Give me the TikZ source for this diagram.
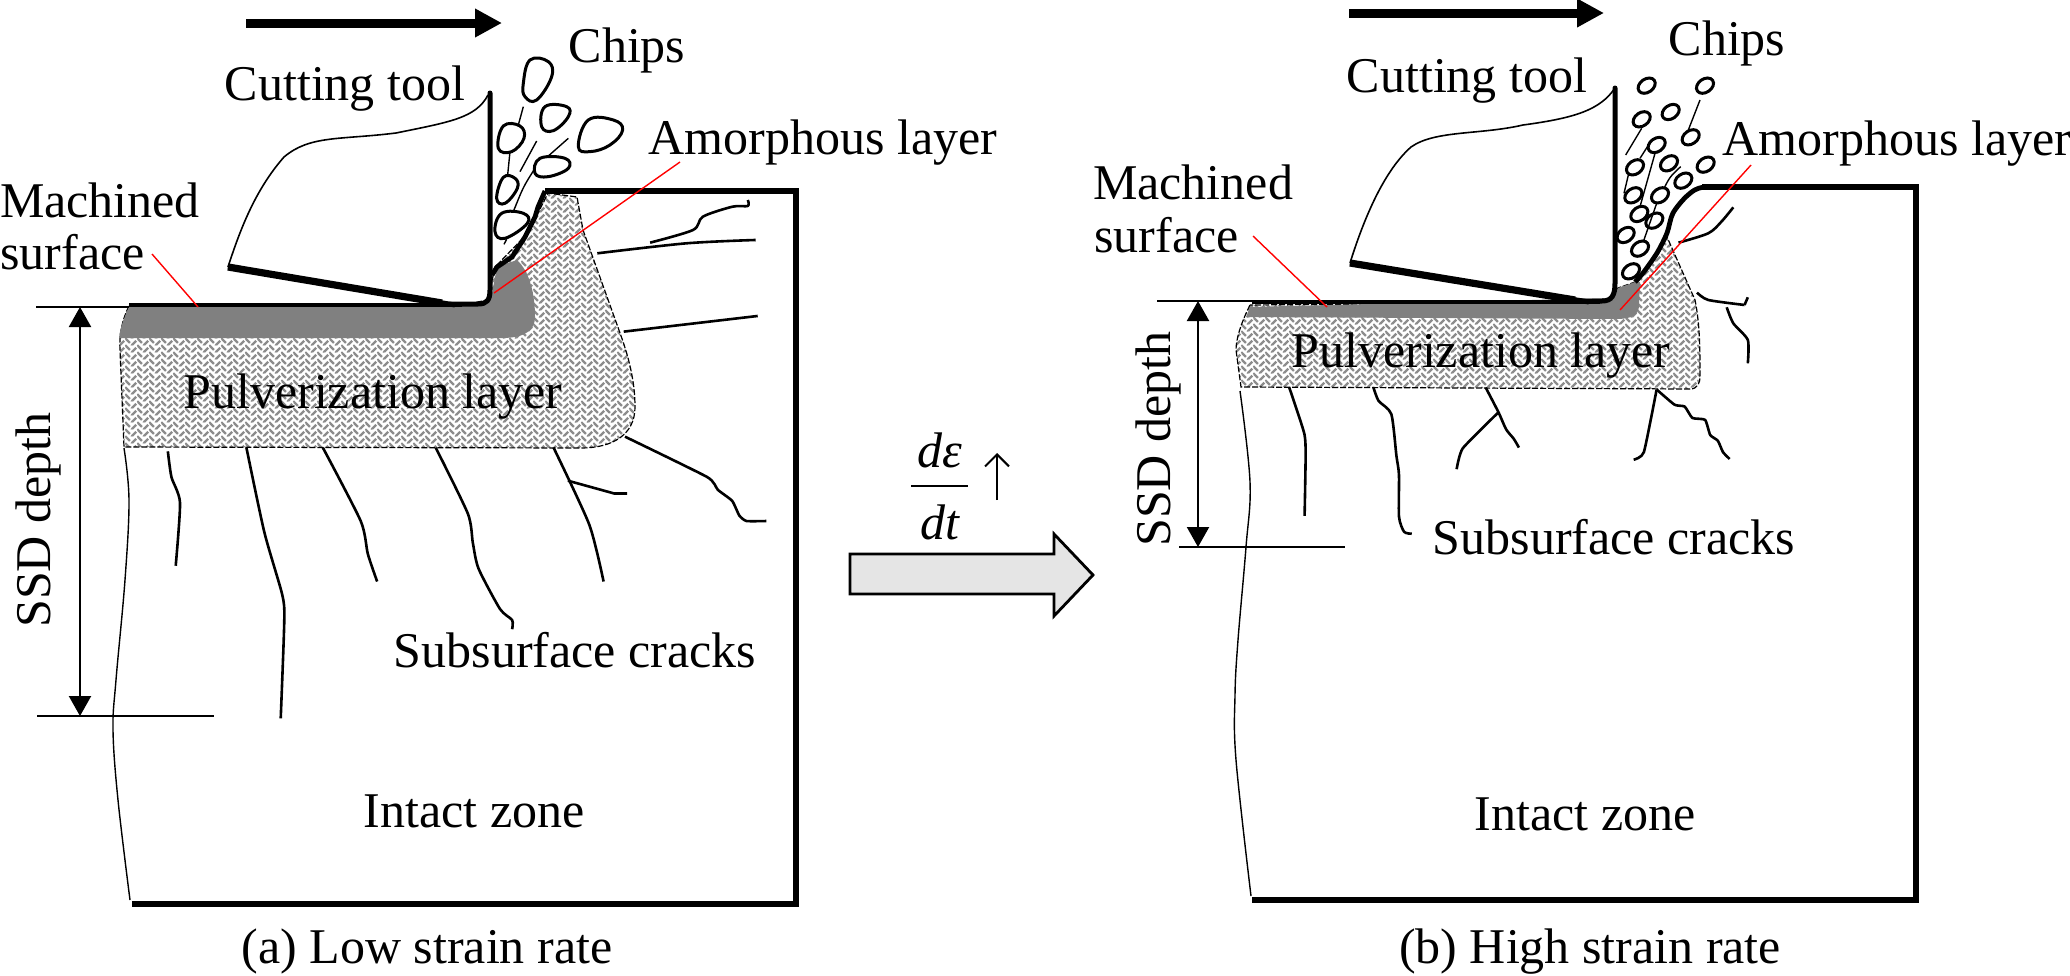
\documentclass[tikz,border=0pt]{standalone}
\usepackage{fontspec}
\setmainfont{Liberation Serif}
\usetikzlibrary{
    arrows.meta,
    patterns
}
\definecolor{layergray}{RGB}{128,128,128}
\definecolor{arrowgray}{RGB}{229,229,229}
\definecolor{leaderred}{RGB}{255,0,0}
\pgfdeclarepatternformonly{herring}{\pgfpoint{-1pt}{-1pt}}{\pgfpoint{7pt}{4pt}}{\pgfpoint{6pt}{3.5pt}}{
    \pgfsetlinewidth{1.1pt}
    \pgfsetmiterjoin
    \pgfpathmoveto{\pgfpoint{0pt}{0pt}}
    \pgfpathlineto{\pgfpoint{3pt}{3pt}}
    \pgfpathlineto{\pgfpoint{6pt}{0pt}}
    \pgfusepath{stroke}
}
\tikzset{
    % Text styles
    label text/.style={
        font=\fontsize{25}{30}\selectfont,
        inner sep=0pt,
        anchor=base
    },
    % Body styles
    work outline/.style={
        line width=3.3pt,
        line join=miter
    },
    free edge/.style={
        line width=0.7pt
    },
    crushed zone/.style={
        pattern=herring,
        pattern color=black!45,
        draw=black,
        line width=0.6pt,
        dash pattern=on 3pt off 1pt
    },
    glass zone/.style={
        fill=layergray
    },
    tool edge/.style={
        line width=0.8pt
    },
    tool flank/.style={
        line width=3.6pt
    },
    tool rake/.style={
        line width=2.5pt
    },
    surface line/.style={
        line width=2.4pt,
        line join=round
    },
    % Chip and crack styles
    chip/.style={
        fill=white,
        line width=1.5pt
    },
    chip trail/.style={
        line width=0.7pt
    },
    crack/.style={
        line width=1.3pt,
        line join=round
    },
    % Arrow styles
    feed arrow/.style={
        line width=4.5pt,
        -{Triangle[length=13.5pt,width=13.5pt]}
    },
    depth arrow/.style={
        line width=1.1pt,
        {Triangle[length=10pt,width=11pt]}-{Triangle[length=10pt,width=11pt]}
    },
    depth tick/.style={
        line width=0.7pt
    },
    leader/.style={
        draw=leaderred,
        line width=0.7pt
    },
    rate arrow/.style={
        draw=black,
        fill=arrowgray,
        line width=1.4pt,
        line join=miter
    },
    % Zoom grids
    grid a/.style={xscale=0.66,yscale=0.3333},
    grid c/.style={shift={(0,400)},xscale=0.7143,yscale=0.3667},
    grid d/.style={shift={(440,40)},scale=0.3333},
    grid e/.style={shift={(1560,50)},scale=0.3333},
    grid f/.style={shift={(1035,0)},xscale=0.66,yscale=0.3333},
    grid g/.style={shift={(1200,380)},xscale=0.5102,yscale=0.3795}
}

\begin{document}
\begin{tikzpicture}[x=0.5pt,y=-0.5pt]
    \path[use as bounding box] (0,0) rectangle (2070,975);

    % low strain rate
    \path[crushed zone] (129,306) .. controls (122,320) and (119,335) .. (120,350) -- (124,447)
        -- (581,448) .. controls (612,448) and (635,435) .. (635,407)
        .. controls (635,380) and (628,355) .. (620,333) -- (583,230) -- (577,197) -- (548,193)
        -- (541,207) -- (528,233) -- (495,267) -- (488,300) -- (462,305) -- cycle;
    \path[glass zone] (129,307) .. controls (124,318) and (120,328) .. (119,338) -- (502,338)
        .. controls (525,338) and (535,330) .. (535,317) .. controls (535,295) and (530,272) .. (517,260)
        -- (497,267) -- (492,293) -- (485,303) -- cycle;
    \draw[work outline] (545,191) -- (796,191) -- (796,904) -- (132,904);
    \draw[free edge] plot[smooth, tension=.6] coordinates {(124,448) (129,500) (125,580) (116,680) (113,730) (118,800) (130,900)};
    \draw[surface line] (129,305) -- (462,305);
    \draw[surface line] (545,191) -- (538,207) -- (535,217) -- (525,237) -- (512,257) -- (497,267) -- (492,275);
    \draw[tool edge] (488,95) .. controls (476,118) and (450,122) .. (396,133)
        .. controls (340,140) and (310,135) .. (284,157) .. controls (255,190) and (240,230) .. (228,267);
    \draw[tool rake] (228,267) -- (455,305);
    \draw[tool flank] (228,267) -- (442,303);
    \draw[tool rake, line cap=round] (490,93) -- (490,290) .. controls (490,300) and (487,304) .. (478,304) -- (450,304);

    \begin{scope}[grid d]
        \draw[chip] plot[smooth cycle, tension=.7] coordinates {(270,60) (325,65) (335,110) (290,180) (255,170) (250,130)};
        \draw[chip] plot[smooth cycle, tension=.7] coordinates {(315,200) (380,200) (385,230) (340,272) (305,260)};
        \draw[chip] plot[smooth cycle, tension=.7] coordinates {(445,240) (520,240) (548,270) (510,315) (450,335) (415,320)};
        \draw[chip] plot[smooth cycle, tension=.7] coordinates {(190,258) (240,258) (252,295) (215,335) (175,325)};
        \draw[chip] plot[smooth cycle, tension=.7] coordinates {(300,355) (375,355) (385,385) (325,410) (285,400)};
        \draw[chip] plot[smooth cycle, tension=.7] coordinates {(190,412) (225,415) (232,445) (195,490) (170,475)};
        \draw[chip] plot[smooth cycle, tension=.7] coordinates {(185,520) (250,520) (262,550) (195,595) (165,575)};
        \draw[chip trail] (250,200) -- (235,255);
        \draw[chip trail] (210,335) -- (203,405);
        \draw[chip trail] (290,303) -- (240,395);
        \draw[chip trail] (385,295) -- (325,348);
        \draw[chip trail] (285,385) .. controls (250,440) .. (220,515);
        \draw[chip trail] (200,598) -- (192,613);
    \end{scope}

    \begin{scope}[grid a]
        \draw[crack] plot[smooth, tension=.5] coordinates {(985,728) (1050,690) (1065,650) (1110,620) (1133,618) (1133,600)};
        \draw[crack] plot[smooth, tension=.5] coordinates {(905,760) (1040,730) (1145,720)};
        \draw[crack] (945,995) -- (1148,948);
    \end{scope}
    \begin{scope}[grid c]
        \draw[crack] plot[smooth, tension=.4] coordinates {(235,140) (240,210) (252,280) (246,452)};
        \draw[crack] plot[smooth, tension=.4] coordinates {(345,130) (370,360) (395,530) (398,600) (393,868)};
        \draw[crack] plot[smooth, tension=.4] coordinates {(452,130) (505,330) (515,420) (528,495)};
        \draw[crack] plot[smooth, tension=.4] coordinates {(610,130) (655,310) (662,390) (670,460) (700,570) (717,600) (717,625)};
        \draw[crack] plot[smooth, tension=.4] coordinates {(775,130) (825,340) (845,495)};
        \draw[crack] (795,220) -- (860,255) -- (878,255);
        \draw[crack] plot[smooth, tension=.3] coordinates {(875,100) (990,210) (1005,245) (1025,275) (1035,315) (1045,330) (1073,330)};
    \end{scope}

    % high strain rate
    \path[crushed zone] (1250,305) .. controls (1240,325) and (1236,340) .. (1236,350) -- (1241,387)
        -- (1690,389) .. controls (1698,389) and (1700,382) .. (1700,377)
        .. controls (1700,350) and (1700,325) .. (1695,300) -- (1667,237) -- (1657,253) -- (1643,273)
        -- (1635,282) -- (1618,288) -- (1610,302) -- cycle;
    \path[glass zone] (1250,307) -- (1246,317) -- (1616,319) .. controls (1632,319) and (1639,315) .. (1639,305)
        -- (1640,282) -- (1635,282) -- (1618,288) -- (1612,298) -- cycle;
    \draw[work outline] (1702,187) -- (1916,187) -- (1916,900) -- (1252,900);
    \draw[free edge] plot[smooth, tension=.6] coordinates {(1240,391) (1250,482) (1246,547) (1238,640) (1235,695) (1236,760) (1251,896)};
    \draw[surface line] (1252,302) -- (1600,302);
    \draw[surface line] plot[smooth, tension=.5] coordinates {(1760,187) (1705,187) (1688,195) (1673,213) (1667,233) (1657,253) (1643,273) (1635,282)};
    \draw[tool edge] (1615,88) .. controls (1600,110) and (1575,118) .. (1523,125)
        .. controls (1480,135) and (1435,130) .. (1411,147) .. controls (1385,170) and (1365,215) .. (1350,263);
    \draw[tool rake] (1350,263) -- (1589,302);
    \draw[tool flank] (1350,263) -- (1575,300);
    \draw[tool rake, line cap=round] (1615,88) -- (1615,283) .. controls (1615,295) and (1612,301) .. (1602,301) -- (1580,301);

    \begin{scope}[grid e]
        \foreach \cx/\cy in {260/107,435/107,245/208,332/186,392/262,290/285,225/352,327/340,437/344,370/392,220/436,300/436,238/492,283/512,197/555,240/596,213/664}
            \draw[chip, rotate around={35:(\cx,\cy)}] (\cx,\cy) ellipse (28 and 20);
        \draw[chip trail] (420,150) -- (385,240);
        \draw[chip trail] (245,235) -- (197,315);
        \draw[chip trail] (275,270) -- (240,325);
        \draw[chip trail] (285,310) -- (240,470);
        \draw[chip trail] (205,375) -- (192,430);
        \draw[chip trail] (362,350) .. controls (330,380) .. (312,415);
        \draw[chip trail] (290,460) -- (250,575);
    \end{scope}

    \begin{scope}[grid f]
        \draw[crack] plot[smooth, tension=.5] coordinates {(1058,622) (1040,665) (1020,700) (975,728)};
        \draw[crack] plot[smooth, tension=.4] coordinates {(1003,878) (1020,900) (1075,915)};
        \draw[crack] (1075,915) -- (1080,892);
        \draw[crack] plot[smooth, tension=.4] coordinates {(1048,922) (1058,970) (1080,1020) (1080,1090)};
    \end{scope}
    \begin{scope}[grid g]
        \draw[crack] plot[smooth, tension=.4] coordinates {(175,20) (190,80) (205,145) (207,200) (205,358)};
        \draw[crack] plot[smooth, tension=.4] coordinates {(340,20) (350,55) (375,90) (385,200) (390,250) (390,360) (400,400) (415,405)};
        \draw[crack] plot[smooth, tension=.4] coordinates {(560,20) (585,85) (600,130) (615,155) (625,178)};
        \draw[crack] plot[smooth, tension=.3] coordinates {(585,85) (515,180) (503,235)};
        \draw[crack] plot[smooth, tension=.3] coordinates {(895,25) (870,190) (850,210)};
        \draw[crack] plot[smooth, tension=.3] coordinates {(895,25) (930,65) (950,70) (965,100) (990,105) (1000,145) (1015,160) (1025,190) (1038,208)};
    \end{scope}

    % feed directions
    \coordinate (feedAstart) at (246,23);
    \coordinate (feedAend) at (502,23);
    \coordinate (feedBstart) at (1349,13);
    \coordinate (feedBend) at (1604,13);
    \draw[feed arrow] (feedAstart) -- (feedAend);
    \draw[feed arrow] (feedBstart) -- (feedBend);

    % depth marks
    \coordinate (tickAtop) at (36,307);
    \coordinate (tickAtopEnd) at (129,307);
    \coordinate (tickAbot) at (37,716);
    \coordinate (tickAbotEnd) at (214,716);
    \coordinate (depthAtop) at (80,307);
    \coordinate (depthAbot) at (80,716);
    \draw[depth tick] (tickAtop) -- (tickAtopEnd);
    \draw[depth tick] (tickAbot) -- (tickAbotEnd);
    \draw[depth arrow] (depthAtop) -- (depthAbot);
    \coordinate (tickBtop) at (1157,301);
    \coordinate (tickBtopEnd) at (1252,301);
    \coordinate (tickBbot) at (1179,547);
    \coordinate (tickBbotEnd) at (1345,547);
    \coordinate (depthBtop) at (1198,301);
    \coordinate (depthBbot) at (1198,547);
    \draw[depth tick] (tickBtop) -- (tickBtopEnd);
    \draw[depth tick] (tickBbot) -- (tickBbotEnd);
    \draw[depth arrow] (depthBtop) -- (depthBbot);

    % rate arrow
    \draw[rate arrow] (850,554) -- (1054,554) -- (1054,534) -- (1093,575) -- (1054,616) -- (1054,594) -- (850,594) -- cycle;
    \node[label text] (rateTop) at (940,467) {\itshape dε};
    \node[label text] (rateBot) at (940,539) {\itshape dt};
    \coordinate (barLeft) at (911,486);
    \coordinate (barRight) at (968,486);
    \draw[line width=0.9pt] (barLeft) -- (barRight);
    \coordinate (upStart) at (997,500);
    \coordinate (upEnd) at (997,453);
    \draw[line width=1pt, -{Straight Barb[length=6pt,width=12pt]}] (upStart) -- (upEnd);

    % labels
    \node[label text] (chipsA) at (627,62) {Chips};
    \node[label text] (toolA) at (345,100) {Cutting tool};
    \node[label text] (machinedA) at (100,217) {Machined};
    \node[label text, anchor=base west] (surfaceA) at (0,269) {surface};
    \node[label text] (amorphA) at (823,154) {Amorphous layer};
    \node[label text] (pulverA) at (373,408) {Pulverization layer};
    \node[label text, rotate=90] (ssdA) at (50,520) {SSD depth};
    \node[label text] (cracksA) at (575,667) {Subsurface cracks};
    \node[label text] (intactA) at (474,827) {Intact zone};
    \node[label text] (captionA) at (427,963) {(a) Low strain rate};

    \node[label text] (chipsB) at (1727,55) {Chips};
    \node[label text] (toolB) at (1467,92) {Cutting tool};
    \node[label text] (machinedB) at (1193,199) {Machined};
    \node[label text, anchor=base west] (surfaceB) at (1094,252) {surface};
    \node[label text] (amorphB) at (1897,155) {Amorphous layer};
    \node[label text] (pulverB) at (1481,367) {Pulverization layer};
    \node[label text, rotate=90] (ssdB) at (1170,439) {SSD depth};
    \node[label text] (cracksB) at (1614,554) {Subsurface cracks};
    \node[label text] (intactB) at (1585,830) {Intact zone};
    \node[label text] (captionB) at (1590,963) {(b) High strain rate};

    % leaders
    \coordinate (surfAfrom) at (152,254);
    \coordinate (surfAto) at (198,307);
    \coordinate (amorAfrom) at (680,162);
    \coordinate (amorAto) at (494,293);
    \coordinate (surfBfrom) at (1253,236);
    \coordinate (surfBto) at (1327,307);
    \coordinate (amorBfrom) at (1751,165);
    \coordinate (amorBto) at (1620,310);
    \draw[leader] (surfAfrom) -- (surfAto);
    \draw[leader] (amorAfrom) -- (amorAto);
    \draw[leader] (surfBfrom) -- (surfBto);
    \draw[leader] (amorBfrom) -- (amorBto);
\end{tikzpicture}
\end{document}
